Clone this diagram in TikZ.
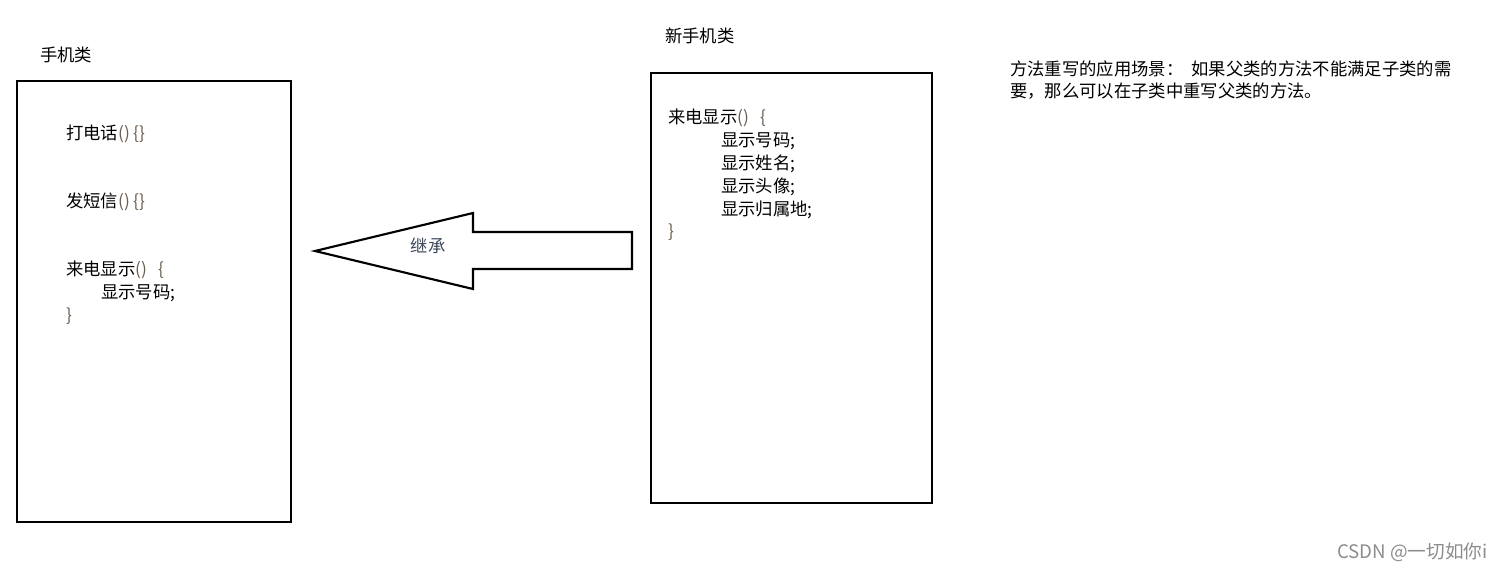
\documentclass[tikz,border=0pt]{standalone}
\usepackage{fontspec}
\setmainfont{Liberation Sans}
\newfontfamily\cjk{Noto Sans CJK SC}
\definecolor{brk}{HTML}{6B5E50}
\definecolor{lbl}{HTML}{3C4A5C}
\begin{document}
\begin{tikzpicture}[x=0.75pt,y=-0.75pt,
  box/.style={draw=black,line width=1.6pt},
  txt/.style={anchor=west,inner sep=0pt,font=\cjk\fontsize{13pt}{15pt}\selectfont},
  arr/.style={draw=black,line width=1.6pt,fill=white}]
\useasboundingbox (0,0) rectangle (1503,571);
% boxes
\draw[box] (17,81) rectangle (291,522);
\draw[box] (651,73) rectangle (932,503);
% titles
\node[txt] (t1) at (40,55) {手机类};
\node[txt] (t2) at (665,36) {新手机类};
% left content
\node[txt] (a1) at (66,134) {打电话\textcolor{brk}{() \{\}}};
\node[txt] (a2) at (66,202) {发短信\textcolor{brk}{() \{\}}};
\node[txt] (a3) at (66,270) {来电显示\textcolor{brk}{()\ \ \ \{}};
\node[txt] (a4) at (101,293) {显示号码;};
\node[txt] (a5) at (66,316) {\textcolor{brk}{\}}};
% right content
\node[txt] (b1) at (668,118) {来电显示\textcolor{brk}{()\ \ \ \{}};
\node[txt] (b2) at (721,141) {显示号码;};
\node[txt] (b3) at (721,164) {显示姓名;};
\node[txt] (b4) at (721,187) {显示头像;};
\node[txt] (b5) at (721,210) {显示归属地;};
\node[txt] (b6) at (668,232) {\textcolor{brk}{\}}};
% arrow
\draw[arr] (315,251) -- (473,213) -- (473,232) -- (632,232) -- (632,269) -- (473,269) -- (473,289) -- cycle;
\node[txt,anchor=center,text=lbl] (inh) at (428,246) {继承};
% note
\node[txt] (n1) at (1010,69) {方法重写的应用场景：\ \ 如果父类的方法不能满足子类的需};
\node[txt] (n2) at (1010,91) {要，那么可以在子类中重写父类的方法。};
% watermark
\node[txt,anchor=east,text=black!45,font=\cjk\fontsize{14pt}{16pt}\selectfont] (wm) at (1488,552) {CSDN @一切如你i};
\end{tikzpicture}
\end{document}
